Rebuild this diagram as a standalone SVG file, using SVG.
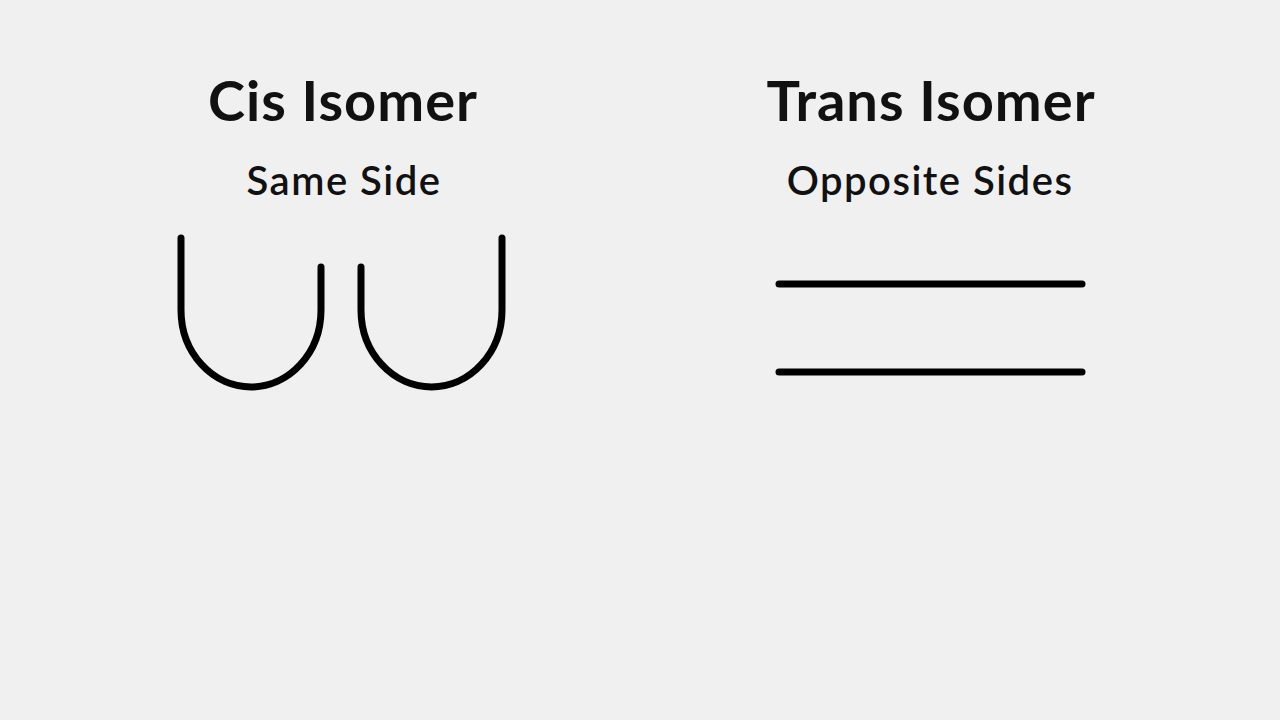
<svg xmlns="http://www.w3.org/2000/svg" width="1280" height="720" viewBox="0 0 1280 720">
<style>
.title{font-family:Lato,"Liberation Sans",sans-serif;font-weight:bold;font-size:56px;letter-spacing:1px;fill:#111;text-anchor:middle}
.sub{font-family:Lato,"Liberation Sans",sans-serif;font-weight:600;font-size:40px;letter-spacing:1.5px;fill:#111;text-anchor:middle}
.bond{fill:none;stroke:#000;stroke-width:7;stroke-linecap:round;stroke-linejoin:round}
</style>
<rect width="1280" height="720" fill="#f0f0f0"/>
<g id="cis">
<text class="title" x="343" y="121">Cis Isomer</text>
<text class="sub" x="344" y="195">Same Side</text>
<path class="bond" d="M181 238 V310 A70 77 0 0 0 321 310 V267"/>
<path class="bond" d="M361 267 V310 A70.5 77 0 0 0 502 310 V238"/>
</g>
<g id="trans">
<text class="title" x="931" y="121">Trans Isomer</text>
<text class="sub" x="930" y="195">Opposite Sides</text>
<line class="bond" x1="779" y1="284" x2="1082" y2="284"/>
<line class="bond" x1="779" y1="372" x2="1082" y2="372"/>
</g>
</svg>
